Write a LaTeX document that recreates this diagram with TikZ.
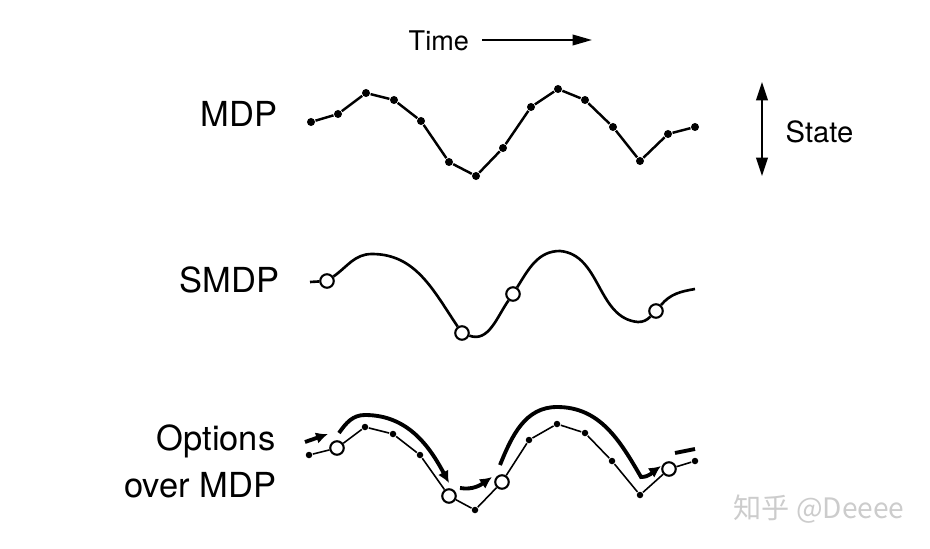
\documentclass[tikz,border=0pt]{standalone}
\usepackage{fontspec}
\setmainfont{TeX Gyre Heros}
\newfontfamily\cjkfont{Noto Sans CJK SC}
\usetikzlibrary{arrows.meta}

\begin{document}
\begin{tikzpicture}[x=0.01cm,y=0.01cm,
    dot/.style={circle,fill,inner sep=0pt,minimum size=0.08cm},
    smalldot/.style={circle,fill,inner sep=0pt,minimum size=0.065cm},
    ring/.style={circle,draw,fill=white,inner sep=0pt,minimum size=0.135cm,line width=0.6pt},
    opt/.style={line width=1.1pt,-{Latex[length=3.4pt,width=3.3pt]}},
    lbl/.style={font=\fontsize{9.8}{12}\selectfont,inner sep=0pt}]
            \useasboundingbox (0,0) rectangle (930,548);
            \node[lbl,anchor=base west,font=\fontsize{7.7}{9}\selectfont] (Time) at (408,497) {Time};
            \coordinate (T0) at (482,508);
            \coordinate (T1) at (592,508);
            \draw[line width=0.55pt,-{Triangle[length=5.5pt,width=3pt]}] (T0) to (T1);
            \coordinate (Up) at (762,466);
            \coordinate (Down) at (762,372);
            \draw[line width=0.55pt,{Triangle[length=5.2pt,width=3.3pt]}-{Triangle[length=5.2pt,width=3.3pt]}] (Up) to (Down);
            \node[lbl,anchor=base west,font=\fontsize{8.3}{10}\selectfont] (State) at (785,405) {State};
            \node[lbl,anchor=base east] (MDP) at (278,421) {MDP};
            \node[lbl,anchor=base east] (SMDP) at (280,255) {SMDP};
            \node[lbl,anchor=base east] (Opt) at (276,98) {Options};
            \node[lbl,anchor=base east] (Over) at (277,51) {over MDP};
            \node[dot] (M1) at (311,426) {};
            \node[dot] (M2) at (338,434) {};
            \node[dot] (M3) at (366,455) {};
            \node[dot] (M4) at (394,448) {};
            \node[dot] (M5) at (421,427) {};
            \node[dot] (M6) at (449,386) {};
            \node[dot] (M7) at (476,372) {};
            \node[dot] (M8) at (503,400) {};
            \node[dot] (M9) at (531,441) {};
            \node[dot] (M10) at (558,459) {};
            \node[dot] (M11) at (585,448) {};
            \node[dot] (M12) at (613,421) {};
            \node[dot] (M13) at (640,387) {};
            \node[dot] (M14) at (668,414) {};
            \node[dot] (M15) at (695,421) {};
            \draw[line width=0.7pt] (M1) -- (M2) -- (M3) -- (M4) -- (M5) -- (M6) -- (M7) -- (M8)
                -- (M9) -- (M10) -- (M11) -- (M12) -- (M13) -- (M14) -- (M15);
            \coordinate (S0) at (310,266);
            \node[ring] (S1) at (327,267) {};
            \coordinate (SP1) at (372,294);
            \node[ring] (S2) at (462,215) {};
            \node[ring] (S3) at (513,254) {};
            \coordinate (SP2) at (560,297);
            \coordinate (ST) at (638,226);
            \node[ring] (S4) at (656,237) {};
            \coordinate (SE) at (695,259);
            \draw[line width=0.75pt] (S0) -- (S1);
            \draw[line width=0.75pt] (S1) to[out=35,in=180] (SP1) to[out=0,in=124] (S2);
            \draw[line width=0.75pt] (S2) to[out=-20,in=235] (S3);
            \draw[line width=0.75pt] (S3) to[out=58,in=180] (SP2) to[out=-5,in=175] (ST) to[out=0,in=225] (S4);
            \draw[line width=0.75pt] (S4) to[out=50,in=190] (SE);
            \node[smalldot] (O1) at (309,93) {};
            \node[ring] (O2) at (337,100) {};
            \node[smalldot] (O3) at (365,121) {};
            \node[smalldot] (O4) at (393,114) {};
            \node[smalldot] (O5) at (420,93) {};
            \node[ring] (O6) at (449,52) {};
            \node[smalldot] (O7) at (475,38) {};
            \node[ring] (O8) at (502,66) {};
            \node[smalldot] (O9) at (529,108) {};
            \node[smalldot] (O10) at (557,124) {};
            \node[smalldot] (O11) at (585,115) {};
            \node[smalldot] (O12) at (612,87) {};
            \node[smalldot] (O13) at (640,53) {};
            \node[ring] (O14) at (669,79) {};
            \node[smalldot] (O15) at (695,87) {};
            \draw[line width=0.45pt] (O1) -- (O2) -- (O3) -- (O4) -- (O5) -- (O6) -- (O7) -- (O8)
                -- (O9) -- (O10) -- (O11) -- (O12) -- (O13) -- (O14) -- (O15);
            \coordinate (A0s) at (305,106);
            \coordinate (A0e) at (328,114);
            \draw[opt] (A0s) to (A0e);
            \coordinate (A1s) at (339,115);
            \coordinate (A1p) at (365,133);
            \coordinate (A1e) at (449,65);
            \draw[opt] (A1s) to[out=55,in=180] (A1p) to[out=0,in=118] (A1e);
            \coordinate (A2s) at (460,60);
            \coordinate (A2e) at (492,71);
            \draw[opt] (A2s) to[out=-10,in=215] (A2e);
            \coordinate (A3s) at (500,83);
            \coordinate (A3p) at (557,141);
            \coordinate (A3t) at (641,71);
            \coordinate (A3e) at (661,82);
            \draw[opt] (A3s) to[out=68,in=180] (A3p) to[out=0,in=120] (A3t) to[out=0,in=215] (A3e);
            \coordinate (A4s) at (675,95);
            \coordinate (A4e) at (695,99);
            \draw[line width=1.1pt] (A4s) to (A4e);
            \node[text=gray!40,font=\cjkfont\fontsize{8}{9}\selectfont] (Mark) at (819,39) {知乎 @Deeee};
        \end{tikzpicture}
\end{document}
